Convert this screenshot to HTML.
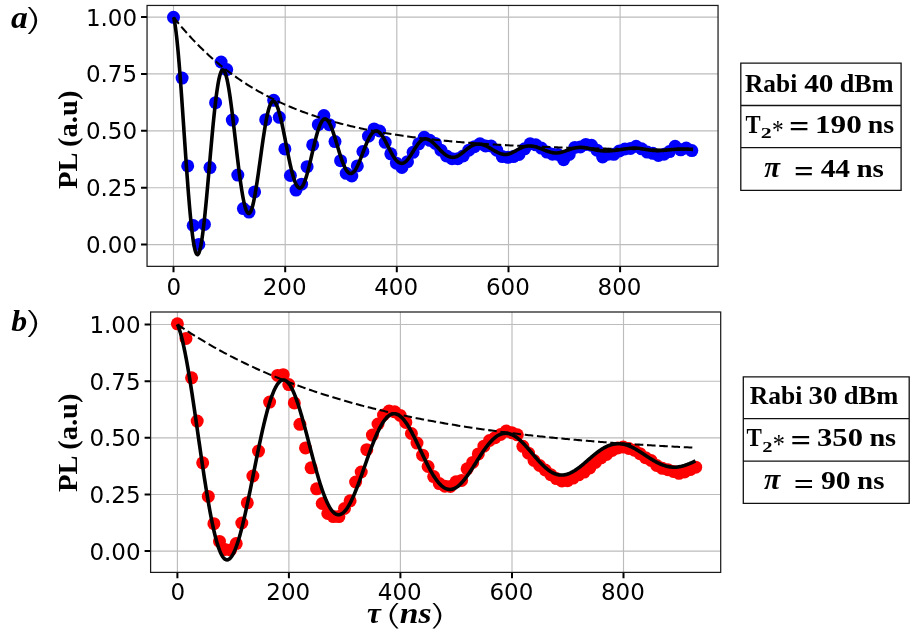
<!DOCTYPE html>
<html lang="en"><head><meta charset="utf-8"><title>Rabi oscillations</title>
<style>
html,body{margin:0;padding:0;background:#fff}
body{width:919px;height:637px;overflow:hidden}
svg{display:block}
.tk text{font-family:"DejaVu Sans","Liberation Sans",sans-serif;font-size:23px;fill:#000}
.sf{font-family:"Liberation Serif","DejaVu Serif",serif;fill:#000}
.b{font-weight:bold}
.bi{font-weight:bold;font-style:italic}
.rg{font-weight:normal;font-style:normal}
.dl{font-family:"DejaVu Sans Light","DejaVu Sans",sans-serif;font-weight:200;fill:#000}
</style></head><body>
<svg width="919" height="637" viewBox="0 0 919 637">
<rect width="919" height="637" fill="#fff"/>
<path d="M173.5,5.45V266.3M285.2,5.45V266.3M396.8,5.45V266.3M508.5,5.45V266.3M620.1,5.45V266.3M147.05,244.6H718.05M147.05,187.7H718.05M147.05,130.8H718.05M147.05,73.9H718.05M147.05,17.1H718.05" stroke="#bcbcbc" stroke-width="1.15" fill="none"/>
<g>
<g fill="#0000ff"><circle cx="173.5" cy="17.3" r="6.5"/><circle cx="182.1" cy="78.1" r="6.5"/><circle cx="187.7" cy="165.9" r="6.5"/><circle cx="193.2" cy="225.5" r="6.5"/><circle cx="198.8" cy="244.4" r="6.5"/><circle cx="204.4" cy="224.4" r="6.5"/><circle cx="210.0" cy="167.6" r="6.5"/><circle cx="215.6" cy="102.7" r="6.5"/><circle cx="221.1" cy="62.0" r="6.5"/><circle cx="226.7" cy="69.6" r="6.5"/><circle cx="232.3" cy="120.1" r="6.5"/><circle cx="237.8" cy="175.1" r="6.5"/><circle cx="243.4" cy="208.6" r="6.5"/><circle cx="249.0" cy="212.1" r="6.5"/><circle cx="254.6" cy="191.9" r="6.5"/><circle cx="265.7" cy="119.7" r="6.5"/><circle cx="273.7" cy="100.3" r="6.5"/><circle cx="279.3" cy="117.3" r="6.5"/><circle cx="284.9" cy="148.9" r="6.5"/><circle cx="290.4" cy="175.5" r="6.5"/><circle cx="296.0" cy="190.1" r="6.5"/><circle cx="301.6" cy="184.2" r="6.5"/><circle cx="307.1" cy="166.7" r="6.5"/><circle cx="312.7" cy="144.9" r="6.5"/><circle cx="318.3" cy="124.7" r="6.5"/><circle cx="323.9" cy="115.5" r="6.5"/><circle cx="329.4" cy="124.7" r="6.5"/><circle cx="335.0" cy="141.6" r="6.5"/><circle cx="340.6" cy="160.7" r="6.5"/><circle cx="346.2" cy="173.3" r="6.5"/><circle cx="351.8" cy="176.0" r="6.5"/><circle cx="357.3" cy="165.9" r="6.5"/><circle cx="362.9" cy="151.5" r="6.5"/><circle cx="368.5" cy="136.2" r="6.5"/><circle cx="374.1" cy="128.9" r="6.5"/><circle cx="379.6" cy="131.0" r="6.5"/><circle cx="385.2" cy="142.3" r="6.5"/><circle cx="390.8" cy="153.8" r="6.5"/><circle cx="396.4" cy="163.2" r="6.5"/><circle cx="401.9" cy="167.5" r="6.5"/><circle cx="407.5" cy="161.7" r="6.5"/><circle cx="413.1" cy="152.3" r="6.5"/><circle cx="418.7" cy="143.8" r="6.5"/><circle cx="424.2" cy="137.3" r="6.5"/><circle cx="429.8" cy="140.3" r="6.5"/><circle cx="435.4" cy="143.4" r="6.5"/><circle cx="440.9" cy="150.2" r="6.5"/><circle cx="446.5" cy="155.9" r="6.5"/><circle cx="452.1" cy="158.7" r="6.5"/><circle cx="457.7" cy="158.7" r="6.5"/><circle cx="463.2" cy="155.9" r="6.5"/><circle cx="468.8" cy="150.2" r="6.5"/><circle cx="474.4" cy="146.7" r="6.5"/><circle cx="480.0" cy="143.8" r="6.5"/><circle cx="485.6" cy="146.0" r="6.5"/><circle cx="491.1" cy="146.0" r="6.5"/><circle cx="496.7" cy="150.2" r="6.5"/><circle cx="502.3" cy="156.6" r="6.5"/><circle cx="507.9" cy="157.3" r="6.5"/><circle cx="513.4" cy="156.6" r="6.5"/><circle cx="519.0" cy="154.5" r="6.5"/><circle cx="524.6" cy="148.8" r="6.5"/><circle cx="530.1" cy="143.8" r="6.5"/><circle cx="535.7" cy="144.8" r="6.5"/><circle cx="541.3" cy="148.1" r="6.5"/><circle cx="546.9" cy="152.1" r="6.5"/><circle cx="552.5" cy="154.2" r="6.5"/><circle cx="558.0" cy="154.5" r="6.5"/><circle cx="563.6" cy="159.7" r="6.5"/><circle cx="569.2" cy="154.5" r="6.5"/><circle cx="574.8" cy="147.4" r="6.5"/><circle cx="580.3" cy="147.0" r="6.5"/><circle cx="585.9" cy="144.4" r="6.5"/><circle cx="591.5" cy="145.3" r="6.5"/><circle cx="597.0" cy="150.2" r="6.5"/><circle cx="602.6" cy="156.9" r="6.5"/><circle cx="608.2" cy="154.2" r="6.5"/><circle cx="613.8" cy="154.3" r="6.5"/><circle cx="619.4" cy="150.9" r="6.5"/><circle cx="624.9" cy="149.0" r="6.5"/><circle cx="630.5" cy="148.4" r="6.5"/><circle cx="636.1" cy="146.3" r="6.5"/><circle cx="641.6" cy="148.8" r="6.5"/><circle cx="647.2" cy="152.1" r="6.5"/><circle cx="652.8" cy="153.3" r="6.5"/><circle cx="658.4" cy="155.4" r="6.5"/><circle cx="664.0" cy="154.2" r="6.5"/><circle cx="669.5" cy="151.6" r="6.5"/><circle cx="675.1" cy="146.3" r="6.5"/><circle cx="680.7" cy="149.8" r="6.5"/><circle cx="686.2" cy="148.1" r="6.5"/><circle cx="691.8" cy="150.6" r="6.5"/></g>
<path d="M173.60,17.30 L174.10,19.42 L174.60,22.00 L175.10,25.03 L175.60,28.49 L176.10,32.37 L176.60,36.65 L177.10,41.31 L177.60,46.32 L178.10,51.67 L178.60,57.33 L179.10,63.27 L179.60,69.48 L180.10,75.93 L180.60,82.58 L181.10,89.42 L181.60,96.42 L182.10,103.54 L182.60,110.76 L183.10,118.06 L183.60,125.40 L184.10,132.76 L184.60,140.11 L185.10,147.42 L185.60,154.66 L186.10,161.82 L186.60,168.86 L187.10,175.75 L187.60,182.48 L188.10,189.02 L188.60,195.35 L189.10,201.45 L189.60,207.29 L190.10,212.86 L190.60,218.14 L191.10,223.11 L191.60,227.76 L192.10,232.07 L192.60,236.03 L193.10,239.63 L193.60,242.85 L194.10,245.70 L194.60,248.16 L195.10,250.24 L195.60,251.91 L196.10,253.19 L196.60,254.07 L197.10,254.55 L197.60,254.64 L198.10,254.33 L198.60,253.59 L199.10,252.46 L199.60,250.94 L200.10,249.05 L200.60,246.80 L201.10,244.21 L201.60,241.27 L202.10,238.02 L202.60,234.47 L203.10,230.63 L203.60,226.52 L204.10,222.16 L204.60,217.57 L205.10,212.76 L205.60,207.77 L206.10,202.61 L206.60,197.30 L207.10,191.87 L207.60,186.33 L208.10,180.72 L208.60,175.04 L209.10,169.33 L209.60,163.60 L210.10,157.89 L210.60,152.20 L211.10,146.56 L211.60,141.00 L212.10,135.53 L212.60,130.18 L213.10,124.95 L213.60,119.88 L214.10,114.98 L214.60,110.26 L215.10,105.74 L215.60,101.44 L216.10,97.37 L216.60,93.55 L217.10,89.98 L217.60,86.68 L218.10,83.66 L218.60,80.92 L219.10,78.47 L219.60,76.33 L220.10,74.48 L220.60,72.95 L221.10,71.73 L221.60,70.81 L222.10,70.21 L222.60,69.92 L223.10,69.94 L223.60,70.25 L224.10,70.77 L224.60,71.58 L225.10,72.67 L225.60,74.03 L226.10,75.66 L226.60,77.55 L227.10,79.68 L227.60,82.06 L228.10,84.66 L228.60,87.48 L229.10,90.51 L229.60,93.73 L230.10,97.12 L230.60,100.68 L231.10,104.39 L231.60,108.24 L232.10,112.20 L232.60,116.27 L233.10,120.43 L233.60,124.65 L234.10,128.94 L234.60,133.26 L235.10,137.61 L235.60,141.97 L236.10,146.31 L236.60,150.63 L237.10,154.92 L237.60,159.14 L238.10,163.29 L238.60,167.36 L239.10,171.33 L239.60,175.19 L240.10,178.92 L240.60,182.51 L241.10,185.94 L241.60,189.22 L242.10,192.32 L242.60,195.24 L243.10,197.96 L243.60,200.49 L244.10,202.80 L244.60,204.90 L245.10,206.78 L245.60,208.43 L246.10,209.86 L246.60,211.05 L247.10,212.00 L247.60,212.71 L248.10,213.19 L248.60,213.43 L249.10,213.43 L249.60,213.16 L250.10,212.58 L250.60,211.74 L251.10,210.66 L251.60,209.33 L252.10,207.77 L252.60,205.99 L253.10,203.99 L253.60,201.79 L254.10,199.40 L254.60,196.83 L255.10,194.09 L255.60,191.20 L256.10,188.16 L256.60,185.01 L257.10,181.74 L257.60,178.37 L258.10,174.93 L258.60,171.42 L259.10,167.85 L259.60,164.25 L260.10,160.64 L260.60,157.01 L261.10,153.40 L261.60,149.81 L262.10,146.27 L262.60,142.77 L263.10,139.35 L263.60,136.01 L264.10,132.76 L264.60,129.61 L265.10,126.59 L265.60,123.70 L266.10,120.94 L266.60,118.34 L267.10,115.90 L267.60,113.62 L268.10,111.52 L268.60,109.60 L269.10,107.87 L269.60,106.33 L270.10,104.99 L270.60,103.85 L271.10,102.91 L271.60,102.18 L272.10,101.65 L272.60,101.33 L273.10,101.21 L273.60,101.29 L274.10,101.54 L274.60,101.91 L275.10,102.46 L275.60,103.16 L276.10,104.01 L276.60,105.02 L277.10,106.18 L277.60,107.48 L278.10,108.91 L278.60,110.48 L279.10,112.16 L279.60,113.97 L280.10,115.88 L280.60,117.89 L281.10,120.00 L281.60,122.19 L282.10,124.46 L282.60,126.80 L283.10,129.20 L283.60,131.65 L284.10,134.14 L284.60,136.66 L285.10,139.21 L285.60,141.77 L286.10,144.33 L286.60,146.90 L287.10,149.45 L287.60,151.98 L288.10,154.48 L288.60,156.94 L289.10,159.35 L289.60,161.71 L290.10,164.01 L290.60,166.24 L291.10,168.39 L291.60,170.46 L292.10,172.44 L292.60,174.32 L293.10,176.10 L293.60,177.77 L294.10,179.32 L294.60,180.77 L295.10,182.09 L295.60,183.28 L296.10,184.35 L296.60,185.29 L297.10,186.09 L297.60,186.76 L298.10,187.30 L298.60,187.70 L299.10,187.96 L299.60,188.09 L300.10,188.08 L300.60,187.93 L301.10,187.64 L301.60,187.19 L302.10,186.61 L302.60,185.89 L303.10,185.03 L303.60,184.04 L304.10,182.93 L304.60,181.70 L305.10,180.35 L305.60,178.90 L306.10,177.35 L306.60,175.70 L307.10,173.96 L307.60,172.15 L308.10,170.26 L308.60,168.32 L309.10,166.31 L309.60,164.26 L310.10,162.17 L310.60,160.05 L311.10,157.91 L311.60,155.76 L312.10,153.60 L312.60,151.44 L313.10,149.30 L313.60,147.18 L314.10,145.08 L314.60,143.03 L315.10,141.01 L315.60,139.05 L316.10,137.15 L316.60,135.31 L317.10,133.54 L317.60,131.86 L318.10,130.25 L318.60,128.74 L319.10,127.32 L319.60,126.00 L320.10,124.78 L320.60,123.67 L321.10,122.67 L321.60,121.79 L322.10,121.02 L322.60,120.37 L323.10,119.84 L323.60,119.43 L324.10,119.14 L324.60,118.97 L325.10,118.92 L325.60,118.99 L326.10,119.19 L326.60,119.50 L327.10,119.92 L327.60,120.44 L328.10,121.07 L328.60,121.80 L329.10,122.63 L329.60,123.55 L330.10,124.56 L330.60,125.65 L331.10,126.82 L331.60,128.07 L332.10,129.38 L332.60,130.76 L333.10,132.19 L333.60,133.68 L334.10,135.21 L334.60,136.78 L335.10,138.38 L335.60,140.01 L336.10,141.66 L336.60,143.33 L337.10,145.00 L337.60,146.67 L338.10,148.34 L338.60,150.00 L339.10,151.64 L339.60,153.25 L340.10,154.84 L340.60,156.39 L341.10,157.90 L341.60,159.37 L342.10,160.78 L342.60,162.14 L343.10,163.44 L343.60,164.68 L344.10,165.85 L344.60,166.95 L345.10,167.97 L345.60,168.91 L346.10,169.77 L346.60,170.55 L347.10,171.24 L347.60,171.84 L348.10,172.36 L348.60,172.78 L349.10,173.12 L349.60,173.36 L350.10,173.51 L350.60,173.57 L351.10,173.54 L351.60,173.42 L352.10,173.21 L352.60,172.92 L353.10,172.53 L353.60,172.06 L354.10,171.52 L354.60,170.89 L355.10,170.19 L355.60,169.42 L356.10,168.58 L356.60,167.68 L357.10,166.71 L357.60,165.69 L358.10,164.62 L358.60,163.51 L359.10,162.35 L359.60,161.15 L360.10,159.93 L360.60,158.67 L361.10,157.39 L361.60,156.10 L362.10,154.79 L362.60,153.48 L363.10,152.16 L363.60,150.85 L364.10,149.55 L364.60,148.26 L365.10,146.98 L365.60,145.73 L366.10,144.51 L366.60,143.32 L367.10,142.16 L367.60,141.04 L368.10,139.97 L368.60,138.94 L369.10,137.96 L369.60,137.04 L370.10,136.18 L370.60,135.37 L371.10,134.62 L371.60,133.94 L372.10,133.33 L372.60,132.78 L373.10,132.31 L373.60,131.90 L374.10,131.56 L374.60,131.30 L375.10,131.11 L375.60,130.99 L376.10,130.94 L376.60,130.97 L377.10,131.07 L377.60,131.25 L378.10,131.50 L378.60,131.82 L379.10,132.20 L379.60,132.64 L380.10,133.13 L380.60,133.69 L381.10,134.30 L381.60,134.96 L382.10,135.66 L382.60,136.41 L383.10,137.20 L383.60,138.03 L384.10,138.90 L384.60,139.79 L385.10,140.71 L385.60,141.65 L386.10,142.61 L386.60,143.59 L387.10,144.57 L387.60,145.57 L388.10,146.57 L388.60,147.56 L389.10,148.56 L389.60,149.54 L390.10,150.52 L390.60,151.47 L391.10,152.41 L391.60,153.33 L392.10,154.23 L392.60,155.09 L393.10,155.93 L393.60,156.73 L394.10,157.49 L394.60,158.22 L395.10,158.90 L395.60,159.54 L396.10,160.14 L396.60,160.69 L397.10,161.19 L397.60,161.64 L398.10,162.04 L398.60,162.39 L399.10,162.68 L399.60,162.92 L400.10,163.11 L400.60,163.25 L401.10,163.33 L401.60,163.36 L402.10,163.34 L402.60,163.27 L403.10,163.15 L403.60,162.97 L404.10,162.73 L404.60,162.44 L405.10,162.09 L405.60,161.69 L406.10,161.24 L406.60,160.75 L407.10,160.21 L407.60,159.62 L408.10,159.00 L408.60,158.35 L409.10,157.66 L409.60,156.95 L410.10,156.21 L410.60,155.44 L411.10,154.66 L411.60,153.87 L412.10,153.06 L412.60,152.25 L413.10,151.44 L413.60,150.62 L414.10,149.81 L414.60,149.01 L415.10,148.21 L415.60,147.44 L416.10,146.67 L416.60,145.94 L417.10,145.22 L417.60,144.53 L418.10,143.87 L418.60,143.24 L419.10,142.65 L419.60,142.10 L420.10,141.58 L420.60,141.11 L421.10,140.67 L421.60,140.28 L422.10,139.94 L422.60,139.64 L423.10,139.40 L423.60,139.19 L424.10,139.04 L424.60,138.93 L425.10,138.88 L425.60,138.87 L426.10,138.91 L426.60,138.99 L427.10,139.11 L427.60,139.27 L428.10,139.45 L428.60,139.66 L429.10,139.91 L429.60,140.18 L430.10,140.48 L430.60,140.81 L431.10,141.16 L431.60,141.53 L432.10,141.93 L432.60,142.35 L433.10,142.78 L433.60,143.23 L434.10,143.70 L434.60,144.18 L435.10,144.68 L435.60,145.18 L436.10,145.69 L436.60,146.21 L437.10,146.73 L437.60,147.26 L438.10,147.79 L438.60,148.31 L439.10,148.84 L439.60,149.36 L440.10,149.88 L440.60,150.39 L441.10,150.89 L441.60,151.38 L442.10,151.86 L442.60,152.32 L443.10,152.77 L443.60,153.21 L444.10,153.63 L444.60,154.03 L445.10,154.41 L445.60,154.77 L446.10,155.11 L446.60,155.43 L447.10,155.73 L447.60,156.00 L448.10,156.25 L448.60,156.47 L449.10,156.67 L449.60,156.84 L450.10,156.99 L450.60,157.11 L451.10,157.21 L451.60,157.28 L452.10,157.32 L452.60,157.34 L453.10,157.33 L453.60,157.30 L454.10,157.24 L454.60,157.15 L455.10,157.03 L455.60,156.88 L456.10,156.71 L456.60,156.51 L457.10,156.29 L457.60,156.04 L458.10,155.78 L458.60,155.49 L459.10,155.18 L459.60,154.86 L460.10,154.52 L460.60,154.17 L461.10,153.80 L461.60,153.43 L462.10,153.04 L462.60,152.64 L463.10,152.24 L463.60,151.84 L464.10,151.43 L464.60,151.01 L465.10,150.60 L465.60,150.19 L466.10,149.79 L466.60,149.38 L467.10,148.99 L467.60,148.60 L468.10,148.22 L468.60,147.85 L469.10,147.49 L469.60,147.15 L470.10,146.82 L470.60,146.50 L471.10,146.20 L471.60,145.92 L472.10,145.65 L472.60,145.41 L473.10,145.18 L473.60,144.97 L474.10,144.79 L474.60,144.62 L475.10,144.48 L475.60,144.35 L476.10,144.25 L476.60,144.17 L477.10,144.12 L477.60,144.08 L478.10,144.07 L478.60,144.08 L479.10,144.10 L479.60,144.13 L480.10,144.17 L480.60,144.23 L481.10,144.31 L481.60,144.40 L482.10,144.52 L482.60,144.65 L483.10,144.79 L483.60,144.96 L484.10,145.13 L484.60,145.33 L485.10,145.53 L485.60,145.75 L486.10,145.98 L486.60,146.22 L487.10,146.48 L487.60,146.74 L488.10,147.01 L488.60,147.29 L489.10,147.57 L489.60,147.87 L490.10,148.16 L490.60,148.46 L491.10,148.76 L491.60,149.07 L492.10,149.37 L492.60,149.67 L493.10,149.97 L493.60,150.27 L494.10,150.57 L494.60,150.86 L495.10,151.15 L495.60,151.43 L496.10,151.70 L496.60,151.96 L497.10,152.21 L497.60,152.46 L498.10,152.69 L498.60,152.91 L499.10,153.12 L499.60,153.32 L500.10,153.50 L500.60,153.67 L501.10,153.83 L501.60,153.97 L502.10,154.09 L502.60,154.20 L503.10,154.29 L503.60,154.37 L504.10,154.43 L504.60,154.47 L505.10,154.49 L505.60,154.50 L506.10,154.49 L506.60,154.44 L507.10,154.37 L507.60,154.28 L508.10,154.17 L508.60,154.04 L509.10,153.90 L509.60,153.73 L510.10,153.56 L510.60,153.36 L511.10,153.16 L511.60,152.94 L512.10,152.70 L512.60,152.46 L513.10,152.21 L513.60,151.95 L514.10,151.68 L514.60,151.41 L515.10,151.13 L515.60,150.85 L516.10,150.57 L516.60,150.29 L517.10,150.01 L517.60,149.73 L518.10,149.45 L518.60,149.18 L519.10,148.91 L519.60,148.65 L520.10,148.40 L520.60,148.15 L521.10,147.92 L521.60,147.69 L522.10,147.48 L522.60,147.28 L523.10,147.09 L523.60,146.91 L524.10,146.75 L524.60,146.60 L525.10,146.47 L525.60,146.35 L526.10,146.25 L526.60,146.17 L527.10,146.10 L527.60,146.04 L528.10,146.01 L528.60,145.99 L529.10,145.98 L529.60,145.99 L530.10,146.01 L530.60,146.03 L531.10,146.06 L531.60,146.10 L532.10,146.15 L532.60,146.22 L533.10,146.30 L533.60,146.39 L534.10,146.49 L534.60,146.60 L535.10,146.72 L535.60,146.85 L536.10,146.99 L536.60,147.13 L537.10,147.29 L537.60,147.45 L538.10,147.62 L538.60,147.80 L539.10,147.98 L539.60,148.17 L540.10,148.36 L540.60,148.56 L541.10,148.75 L541.60,148.96 L542.10,149.16 L542.60,149.36 L543.10,149.57 L543.60,149.77 L544.10,149.97 L544.60,150.18 L545.10,150.37 L545.60,150.57 L546.10,150.76 L546.60,150.95 L547.10,151.13 L547.60,151.31 L548.10,151.48 L548.60,151.65 L549.10,151.80 L549.60,151.95 L550.10,152.09 L550.60,152.22 L551.10,152.35 L551.60,152.46 L552.10,152.56 L552.60,152.66 L553.10,152.74 L553.60,152.81 L554.10,152.87 L554.60,152.92 L555.10,152.96 L555.60,152.98 L556.10,153.00 L556.60,153.00 L557.10,152.97 L557.60,152.92 L558.10,152.86 L558.60,152.79 L559.10,152.71 L559.60,152.62 L560.10,152.52 L560.60,152.40 L561.10,152.28 L561.60,152.16 L562.10,152.02 L562.60,151.88 L563.10,151.73 L563.60,151.57 L564.10,151.41 L564.60,151.25 L565.10,151.08 L565.60,150.91 L566.10,150.74 L566.60,150.56 L567.10,150.39 L567.60,150.21 L568.10,150.04 L568.60,149.87 L569.10,149.69 L569.60,149.53 L570.10,149.36 L570.60,149.20 L571.10,149.04 L571.60,148.89 L572.10,148.74 L572.60,148.60 L573.10,148.46 L573.60,148.34 L574.10,148.21 L574.60,148.10 L575.10,147.99 L575.60,147.89 L576.10,147.80 L576.60,147.72 L577.10,147.65 L577.60,147.58 L578.10,147.53 L578.60,147.48 L579.10,147.44 L579.60,147.41 L580.10,147.39 L580.60,147.38 L581.10,147.38 L581.60,147.38 L582.10,147.40 L582.60,147.43 L583.10,147.46 L583.60,147.51 L584.10,147.56 L584.60,147.62 L585.10,147.69 L585.60,147.77 L586.10,147.85 L586.60,147.94 L587.10,148.03 L587.60,148.13 L588.10,148.23 L588.60,148.34 L589.10,148.44 L589.60,148.56 L590.10,148.67 L590.60,148.79 L591.10,148.90 L591.60,149.02 L592.10,149.14 L592.60,149.25 L593.10,149.37 L593.60,149.48 L594.10,149.59 L594.60,149.70 L595.10,149.81 L595.60,149.91 L596.10,150.01 L596.60,150.11 L597.10,150.20 L597.60,150.29 L598.10,150.37 L598.60,150.45 L599.10,150.52 L599.60,150.58 L600.10,150.65 L600.60,150.70 L601.10,150.75 L601.60,150.79 L602.10,150.83 L602.60,150.86 L603.10,150.88 L603.60,150.90 L604.10,150.91 L604.60,150.92 L605.10,150.92 L605.60,150.91 L606.10,150.90 L606.60,150.90 L607.10,150.90 L607.60,150.89 L608.10,150.88 L608.60,150.87 L609.10,150.85 L609.60,150.83 L610.10,150.80 L610.60,150.78 L611.10,150.74 L611.60,150.71 L612.10,150.67 L612.60,150.63 L613.10,150.58 L613.60,150.53 L614.10,150.48 L614.60,150.42 L615.10,150.37 L615.60,150.31 L616.10,150.24 L616.60,150.18 L617.10,150.11 L617.60,150.04 L618.10,149.97 L618.60,149.90 L619.10,149.83 L619.60,149.75 L620.10,149.68 L620.60,149.60 L621.10,149.53 L621.60,149.45 L622.10,149.38 L622.60,149.30 L623.10,149.23 L623.60,149.15 L624.10,149.08 L624.60,149.01 L625.10,148.94 L625.60,148.87 L626.10,148.80 L626.60,148.73 L627.10,148.67 L627.60,148.61 L628.10,148.55 L628.60,148.50 L629.10,148.44 L629.60,148.39 L630.10,148.35 L630.60,148.31 L631.10,148.27 L631.60,148.23 L632.10,148.20 L632.60,148.17 L633.10,148.15 L633.60,148.13 L634.10,148.12 L634.60,148.11 L635.10,148.10 L635.60,148.11 L636.10,148.14 L636.60,148.17 L637.10,148.20 L637.60,148.24 L638.10,148.28 L638.60,148.33 L639.10,148.39 L639.60,148.45 L640.10,148.51 L640.60,148.58 L641.10,148.65 L641.60,148.73 L642.10,148.80 L642.60,148.88 L643.10,148.96 L643.60,149.04 L644.10,149.13 L644.60,149.21 L645.10,149.30 L645.60,149.38 L646.10,149.46 L646.60,149.55 L647.10,149.63 L647.60,149.71 L648.10,149.79 L648.60,149.86 L649.10,149.94 L649.60,150.01 L650.10,150.08 L650.60,150.14 L651.10,150.20 L651.60,150.26 L652.10,150.31 L652.60,150.36 L653.10,150.41 L653.60,150.45 L654.10,150.48 L654.60,150.52 L655.10,150.54 L655.60,150.56 L656.10,150.58 L656.60,150.60 L657.10,150.60 L657.60,150.61 L658.10,150.61 L658.60,150.60 L659.10,150.59 L659.60,150.58 L660.10,150.56 L660.60,150.54 L661.10,150.52 L661.60,150.49 L662.10,150.46 L662.60,150.43 L663.10,150.39 L663.60,150.35 L664.10,150.32 L664.60,150.27 L665.10,150.23 L665.60,150.19 L666.10,150.14 L666.60,150.09 L667.10,150.05 L667.60,150.00 L668.10,149.95 L668.60,149.90 L669.10,149.85 L669.60,149.80 L670.10,149.75 L670.60,149.70 L671.10,149.66 L671.60,149.61 L672.10,149.56 L672.60,149.52 L673.10,149.47 L673.60,149.43 L674.10,149.39 L674.60,149.35 L675.10,149.31 L675.60,149.27 L676.10,149.24 L676.60,149.20 L677.10,149.17 L677.60,149.15 L678.10,149.12 L678.60,149.10 L679.10,149.08 L679.60,149.06 L680.10,149.04 L680.60,149.03 L681.10,149.01 L681.60,149.01 L682.10,149.00 L682.60,148.99 L683.10,148.99 L683.60,148.99 L684.10,148.99 L684.60,149.00 L685.10,149.01 L685.60,149.03 L686.10,149.05 L686.60,149.07 L687.10,149.09 L687.60,149.11 L688.10,149.13 L688.60,149.16 L689.10,149.18 L689.60,149.21 L690.10,149.24 L690.60,149.26 L691.10,149.29 L691.60,149.32 L692.10,149.34 L692.60,149.37 L693.10,149.40" stroke="#000" stroke-width="3.6" fill="none" stroke-linejoin="round" stroke-linecap="butt"/>
<path d="M173.50,17.05 L175.17,19.17 L176.85,21.25 L178.52,23.30 L180.20,25.32 L181.87,27.31 L183.55,29.26 L185.22,31.19 L186.90,33.08 L188.57,34.95 L190.25,36.78 L191.92,38.59 L193.60,40.36 L195.27,42.11 L196.95,43.83 L198.62,45.53 L200.30,47.19 L201.97,48.83 L203.65,50.45 L205.32,52.04 L207.00,53.60 L208.67,55.14 L210.35,56.65 L212.02,58.14 L213.70,59.61 L215.37,61.06 L217.05,62.48 L218.72,63.88 L220.40,65.25 L222.07,66.61 L223.75,67.94 L225.42,69.25 L227.10,70.54 L228.77,71.81 L230.45,73.06 L232.12,74.30 L233.80,75.51 L235.47,76.70 L237.15,77.87 L238.82,79.03 L240.50,80.16 L242.17,81.28 L243.85,82.38 L245.52,83.47 L247.20,84.53 L248.87,85.58 L250.55,86.62 L252.22,87.63 L253.90,88.63 L255.57,89.62 L257.25,90.59 L258.92,91.54 L260.59,92.48 L262.27,93.40 L263.94,94.31 L265.62,95.20 L267.29,96.08 L268.97,96.95 L270.64,97.80 L272.32,98.64 L273.99,99.47 L275.67,100.28 L277.34,101.08 L279.02,101.87 L280.69,102.64 L282.37,103.41 L284.04,104.16 L285.72,104.90 L287.39,105.62 L289.07,106.34 L290.74,107.04 L292.42,107.74 L294.09,108.42 L295.77,109.09 L297.44,109.75 L299.12,110.40 L300.79,111.04 L302.47,111.67 L304.14,112.29 L305.82,112.90 L307.49,113.50 L309.17,114.09 L310.84,114.67 L312.52,115.24 L314.19,115.81 L315.87,116.36 L317.54,116.91 L319.22,117.44 L320.89,117.97 L322.57,118.49 L324.24,119.00 L325.92,119.51 L327.59,120.00 L329.27,120.49 L330.94,120.97 L332.62,121.44 L334.29,121.91 L335.97,122.37 L337.64,122.82 L339.32,123.26 L340.99,123.70 L342.66,124.13 L344.34,124.55 L346.01,124.96 L347.69,125.37 L349.36,125.78 L351.04,126.17 L352.71,126.56 L354.39,126.95 L356.06,127.33 L357.74,127.70 L359.41,128.06 L361.09,128.42 L362.76,128.78 L364.44,129.13 L366.11,129.47 L367.79,129.81 L369.46,130.14 L371.14,130.47 L372.81,130.79 L374.49,131.11 L376.16,131.42 L377.84,131.73 L379.51,132.03 L381.19,132.33 L382.86,132.62 L384.54,132.91 L386.21,133.19 L387.89,133.47 L389.56,133.75 L391.24,134.02 L392.91,134.28 L394.59,134.54 L396.26,134.80 L397.94,135.05 L399.61,135.30 L401.29,135.55 L402.96,135.79 L404.64,136.03 L406.31,136.26 L407.99,136.49 L409.66,136.72 L411.34,136.94 L413.01,137.16 L414.69,137.38 L416.36,137.59 L418.04,137.80 L419.71,138.01 L421.39,138.21 L423.06,138.41 L424.74,138.61 L426.41,138.80 L428.08,138.99 L429.76,139.18 L431.43,139.36 L433.11,139.54 L434.78,139.72 L436.46,139.90 L438.13,140.07 L439.81,140.24 L441.48,140.41 L443.16,140.57 L444.83,140.74 L446.51,140.89 L448.18,141.05 L449.86,141.21 L451.53,141.36 L453.21,141.51 L454.88,141.66 L456.56,141.80 L458.23,141.94 L459.91,142.08 L461.58,142.22 L463.26,142.36 L464.93,142.49 L466.61,142.62 L468.28,142.75 L469.96,142.88 L471.63,143.01 L473.31,143.13 L474.98,143.25 L476.66,143.37 L478.33,143.49 L480.01,143.61 L481.68,143.72 L483.36,143.83 L485.03,143.94 L486.71,144.05 L488.38,144.16 L490.06,144.27 L491.73,144.37 L493.41,144.47 L495.08,144.57 L496.76,144.67 L498.43,144.77 L500.11,144.86 L501.78,144.96 L503.46,145.05 L505.13,145.14 L506.81,145.23 L508.48,145.32 L510.15,145.41 L511.83,145.49 L513.50,145.58 L515.18,145.66 L516.85,145.74 L518.53,145.82 L520.20,145.90 L521.88,145.98 L523.55,146.06 L525.23,146.13 L526.90,146.21 L528.58,146.28 L530.25,146.35 L531.93,146.42 L533.60,146.49 L535.28,146.56 L536.95,146.63 L538.63,146.69 L540.30,146.76 L541.98,146.82 L543.65,146.89 L545.33,146.95 L547.00,147.01 L548.68,147.07 L550.35,147.13 L552.03,147.19 L553.70,147.25 L555.38,147.30 L557.05,147.36 L558.73,147.41 L560.40,147.47 L562.08,147.52 L563.75,147.57 L565.43,147.62 L567.10,147.67 L568.78,147.72 L570.45,147.77 L572.13,147.82 L573.80,147.87 L575.48,147.92 L577.15,147.96 L578.83,148.01 L580.50,148.05 L582.18,148.09 L583.85,148.14 L585.53,148.18 L587.20,148.22 L588.88,148.26 L590.55,148.30 L592.23,148.34 L593.90,148.38 L595.57,148.42 L597.25,148.46 L598.92,148.50 L600.60,148.53 L602.27,148.57 L603.95,148.61 L605.62,148.64 L607.30,148.67 L608.97,148.71 L610.65,148.74 L612.32,148.78 L614.00,148.81 L615.67,148.84 L617.35,148.87 L619.02,148.90 L620.70,148.93 L622.37,148.96 L624.05,148.99 L625.72,149.02 L627.40,149.05 L629.07,149.08 L630.75,149.10 L632.42,149.13 L634.10,149.16 L635.77,149.18 L637.45,149.21 L639.12,149.24 L640.80,149.26 L642.47,149.29 L644.15,149.31 L645.82,149.33 L647.50,149.36 L649.17,149.38 L650.85,149.40 L652.52,149.43 L654.20,149.45 L655.87,149.47 L657.55,149.49 L659.22,149.51 L660.90,149.53 L662.57,149.55 L664.25,149.57 L665.92,149.59 L667.60,149.61 L669.27,149.63 L670.95,149.65 L672.62,149.67 L674.30,149.69 L675.97,149.70 L677.64,149.72 L679.32,149.74 L680.99,149.76 L682.67,149.77 L684.34,149.79 L686.02,149.81 L687.69,149.82 L689.37,149.84 L691.04,149.85" stroke="#000" stroke-width="2.05" fill="none" stroke-dasharray="8.566 3.704"/>
</g>
<path d="M173.5,266.3v6.0M285.2,266.3v6.0M396.8,266.3v6.0M508.5,266.3v6.0M620.1,266.3v6.0M147.05,244.6h-6.0M147.05,187.7h-6.0M147.05,130.8h-6.0M147.05,73.9h-6.0M147.05,17.1h-6.0" stroke="#000" stroke-width="2.0" fill="none"/>
<rect x="147.05" y="5.45" width="571.0" height="260.9" fill="none" stroke="#1a1a1a" stroke-width="1.23"/>
<g class="tk"><text x="173.9" y="294.8" text-anchor="middle">0</text><text x="284.6" y="294.8" text-anchor="middle">200</text><text x="396.2" y="294.8" text-anchor="middle">400</text><text x="507.9" y="294.8" text-anchor="middle">600</text><text x="619.5" y="294.8" text-anchor="middle">800</text><text x="137.1" y="253.0" text-anchor="end">0.00</text><text x="137.1" y="196.1" text-anchor="end">0.25</text><text x="137.1" y="139.2" text-anchor="end">0.50</text><text x="137.1" y="82.3" text-anchor="end">0.75</text><text x="137.1" y="25.5" text-anchor="end">1.00</text></g>
<path d="M177.4,312.0V572.35M288.9,312.0V572.35M400.4,312.0V572.35M512.0,312.0V572.35M623.5,312.0V572.35M150.6,551.1H720.75M150.6,494.5H720.75M150.6,437.8H720.75M150.6,381.2H720.75M150.6,324.5H720.75" stroke="#bcbcbc" stroke-width="1.15" fill="none"/>
<g>
<g fill="#ff0000"><circle cx="177.4" cy="323.8" r="6.5"/><circle cx="186.0" cy="338.5" r="6.5"/><circle cx="191.6" cy="377.8" r="6.5"/><circle cx="197.2" cy="421.1" r="6.5"/><circle cx="202.7" cy="462.8" r="6.5"/><circle cx="208.3" cy="496.4" r="6.5"/><circle cx="213.9" cy="523.7" r="6.5"/><circle cx="219.5" cy="541.4" r="6.5"/><circle cx="225.0" cy="549.5" r="6.5"/><circle cx="230.6" cy="550.0" r="6.5"/><circle cx="236.2" cy="543.6" r="6.5"/><circle cx="241.8" cy="523.0" r="6.5"/><circle cx="247.3" cy="502.8" r="6.5"/><circle cx="252.9" cy="476.0" r="6.5"/><circle cx="258.5" cy="451.1" r="6.5"/><circle cx="269.6" cy="402.1" r="6.5"/><circle cx="277.6" cy="375.4" r="6.5"/><circle cx="283.2" cy="374.7" r="6.5"/><circle cx="288.8" cy="384.6" r="6.5"/><circle cx="294.3" cy="402.9" r="6.5"/><circle cx="299.9" cy="424.3" r="6.5"/><circle cx="305.5" cy="447.9" r="6.5"/><circle cx="311.1" cy="467.8" r="6.5"/><circle cx="316.6" cy="488.8" r="6.5"/><circle cx="322.2" cy="503.5" r="6.5"/><circle cx="327.8" cy="513.5" r="6.5"/><circle cx="333.4" cy="516.6" r="6.5"/><circle cx="338.9" cy="516.6" r="6.5"/><circle cx="344.5" cy="508.5" r="6.5"/><circle cx="350.1" cy="500.8" r="6.5"/><circle cx="355.6" cy="482.0" r="6.5"/><circle cx="361.2" cy="472.0" r="6.5"/><circle cx="366.8" cy="449.7" r="6.5"/><circle cx="372.4" cy="435.1" r="6.5"/><circle cx="378.0" cy="424.0" r="6.5"/><circle cx="383.5" cy="415.0" r="6.5"/><circle cx="389.1" cy="411.0" r="6.5"/><circle cx="394.7" cy="411.8" r="6.5"/><circle cx="400.2" cy="415.4" r="6.5"/><circle cx="405.8" cy="422.4" r="6.5"/><circle cx="411.4" cy="433.5" r="6.5"/><circle cx="417.0" cy="443.1" r="6.5"/><circle cx="422.6" cy="455.2" r="6.5"/><circle cx="428.1" cy="466.5" r="6.5"/><circle cx="433.7" cy="476.6" r="6.5"/><circle cx="439.3" cy="483.6" r="6.5"/><circle cx="444.9" cy="486.2" r="6.5"/><circle cx="450.4" cy="486.5" r="6.5"/><circle cx="456.0" cy="481.8" r="6.5"/><circle cx="461.6" cy="480.4" r="6.5"/><circle cx="467.1" cy="468.8" r="6.5"/><circle cx="472.7" cy="462.4" r="6.5"/><circle cx="478.3" cy="453.9" r="6.5"/><circle cx="483.9" cy="446.2" r="6.5"/><circle cx="489.5" cy="440.5" r="6.5"/><circle cx="495.0" cy="437.7" r="6.5"/><circle cx="500.6" cy="434.5" r="6.5"/><circle cx="506.2" cy="431.0" r="6.5"/><circle cx="511.8" cy="432.7" r="6.5"/><circle cx="517.3" cy="434.8" r="6.5"/><circle cx="522.9" cy="446.3" r="6.5"/><circle cx="528.5" cy="453.2" r="6.5"/><circle cx="534.0" cy="460.5" r="6.5"/><circle cx="539.6" cy="465.5" r="6.5"/><circle cx="545.2" cy="470.0" r="6.5"/><circle cx="550.8" cy="474.7" r="6.5"/><circle cx="556.4" cy="478.6" r="6.5"/><circle cx="561.9" cy="480.9" r="6.5"/><circle cx="567.5" cy="480.7" r="6.5"/><circle cx="573.1" cy="478.1" r="6.5"/><circle cx="578.6" cy="474.8" r="6.5"/><circle cx="584.2" cy="472.1" r="6.5"/><circle cx="589.8" cy="467.9" r="6.5"/><circle cx="595.4" cy="462.5" r="6.5"/><circle cx="601.0" cy="457.8" r="6.5"/><circle cx="606.5" cy="454.4" r="6.5"/><circle cx="612.1" cy="450.5" r="6.5"/><circle cx="617.7" cy="448.0" r="6.5"/><circle cx="623.2" cy="447.1" r="6.5"/><circle cx="628.8" cy="448.5" r="6.5"/><circle cx="634.4" cy="450.2" r="6.5"/><circle cx="640.0" cy="453.7" r="6.5"/><circle cx="645.5" cy="457.7" r="6.5"/><circle cx="651.1" cy="460.5" r="6.5"/><circle cx="656.7" cy="465.5" r="6.5"/><circle cx="662.3" cy="468.3" r="6.5"/><circle cx="667.9" cy="469.7" r="6.5"/><circle cx="673.4" cy="471.4" r="6.5"/><circle cx="679.0" cy="473.3" r="6.5"/><circle cx="684.6" cy="471.9" r="6.5"/><circle cx="690.1" cy="469.6" r="6.5"/><circle cx="695.7" cy="467.2" r="6.5"/></g>
<path d="M177.40,324.20 L177.90,325.39 L178.40,326.68 L178.90,328.07 L179.40,329.56 L179.90,331.15 L180.40,332.84 L180.90,334.61 L181.40,336.48 L181.90,338.44 L182.40,340.49 L182.90,342.62 L183.40,344.84 L183.90,347.14 L184.40,349.51 L184.90,351.97 L185.40,354.49 L185.90,357.09 L186.40,359.76 L186.90,362.49 L187.40,365.28 L187.90,368.14 L188.40,371.06 L188.90,374.03 L189.40,377.05 L189.90,380.12 L190.40,383.24 L190.90,386.40 L191.40,389.61 L191.90,392.85 L192.40,396.13 L192.90,399.44 L193.40,402.79 L193.90,406.15 L194.40,409.55 L194.90,412.96 L195.40,416.39 L195.90,419.84 L196.40,423.29 L196.90,426.76 L197.40,430.23 L197.90,433.71 L198.40,437.19 L198.90,440.66 L199.40,444.13 L199.90,447.59 L200.40,451.04 L200.90,454.48 L201.40,457.90 L201.90,461.30 L202.40,464.67 L202.90,468.03 L203.40,471.35 L203.90,474.65 L204.40,477.91 L204.90,481.14 L205.40,484.33 L205.90,487.48 L206.40,490.58 L206.90,493.65 L207.40,496.66 L207.90,499.63 L208.40,502.54 L208.90,505.40 L209.40,508.21 L209.90,510.96 L210.40,513.64 L210.90,516.27 L211.40,518.83 L211.90,521.33 L212.40,523.76 L212.90,526.12 L213.40,528.41 L213.90,530.63 L214.40,532.78 L214.90,534.85 L215.40,536.85 L215.90,538.76 L216.40,540.61 L216.90,542.37 L217.40,544.05 L217.90,545.65 L218.40,547.16 L218.90,548.60 L219.40,549.95 L219.90,551.21 L220.40,552.39 L220.90,553.49 L221.40,554.50 L221.90,555.42 L222.40,556.26 L222.90,557.00 L223.40,557.67 L223.90,558.24 L224.40,558.73 L224.90,559.13 L225.40,559.44 L225.90,559.67 L226.40,559.81 L226.90,559.86 L227.40,559.83 L227.90,559.72 L228.40,559.52 L228.90,559.24 L229.40,558.90 L229.90,558.47 L230.40,557.97 L230.90,557.40 L231.40,556.74 L231.90,556.02 L232.40,555.22 L232.90,554.35 L233.40,553.40 L233.90,552.39 L234.40,551.30 L234.90,550.15 L235.40,548.93 L235.90,547.65 L236.40,546.30 L236.90,544.89 L237.40,543.42 L237.90,541.89 L238.40,540.30 L238.90,538.65 L239.40,536.95 L239.90,535.19 L240.40,533.38 L240.90,531.52 L241.40,529.62 L241.90,527.66 L242.40,525.66 L242.90,523.62 L243.40,521.54 L243.90,519.41 L244.40,517.25 L244.90,515.05 L245.40,512.82 L245.90,510.56 L246.40,508.26 L246.90,505.94 L247.40,503.59 L247.90,501.22 L248.40,498.82 L248.90,496.41 L249.40,493.97 L249.90,491.52 L250.40,489.06 L250.90,486.58 L251.40,484.09 L251.90,481.60 L252.40,479.09 L252.90,476.59 L253.40,474.08 L253.90,471.57 L254.40,469.06 L254.90,466.55 L255.40,464.05 L255.90,461.56 L256.40,459.08 L256.90,456.61 L257.40,454.15 L257.90,451.70 L258.40,449.27 L258.90,446.86 L259.40,444.47 L259.90,442.11 L260.40,439.76 L260.90,437.45 L261.40,435.15 L261.90,432.89 L262.40,430.66 L262.90,428.46 L263.40,426.29 L263.90,424.16 L264.40,422.07 L264.90,420.01 L265.40,417.99 L265.90,416.02 L266.40,414.08 L266.90,412.19 L267.40,410.34 L267.90,408.54 L268.40,406.79 L268.90,405.08 L269.40,403.42 L269.90,401.82 L270.40,400.26 L270.90,398.76 L271.40,397.31 L271.90,395.92 L272.40,394.57 L272.90,393.29 L273.40,392.06 L273.90,390.89 L274.40,389.77 L274.90,388.72 L275.40,387.72 L275.90,386.78 L276.40,385.90 L276.90,385.08 L277.40,384.32 L277.90,383.62 L278.40,382.99 L278.90,382.41 L279.40,381.90 L279.90,381.44 L280.40,381.05 L280.90,380.72 L281.40,380.45 L281.90,380.24 L282.40,380.09 L282.90,380.00 L283.40,379.98 L283.90,380.01 L284.40,380.10 L284.90,380.25 L285.40,380.47 L285.90,380.75 L286.40,381.09 L286.90,381.49 L287.40,381.94 L287.90,382.46 L288.40,383.04 L288.90,383.67 L289.40,384.36 L289.90,385.11 L290.40,385.91 L290.90,386.76 L291.40,387.67 L291.90,388.63 L292.40,389.64 L292.90,390.70 L293.40,391.81 L293.90,392.97 L294.40,394.17 L294.90,395.42 L295.40,396.71 L295.90,398.04 L296.40,399.42 L296.90,400.83 L297.40,402.29 L297.90,403.78 L298.40,405.30 L298.90,406.86 L299.40,408.46 L299.90,410.08 L300.40,411.74 L300.90,413.42 L301.40,415.13 L301.90,416.87 L302.40,418.63 L302.90,420.41 L303.40,422.21 L303.90,424.03 L304.40,425.87 L304.90,427.72 L305.40,429.59 L305.90,431.47 L306.40,433.37 L306.90,435.27 L307.40,437.18 L307.90,439.09 L308.40,441.01 L308.90,442.94 L309.40,444.86 L309.90,446.79 L310.40,448.71 L310.90,450.63 L311.40,452.55 L311.90,454.45 L312.40,456.36 L312.90,458.25 L313.40,460.13 L313.90,462.00 L314.40,463.85 L314.90,465.69 L315.40,467.51 L315.90,469.32 L316.40,471.10 L316.90,472.87 L317.40,474.61 L317.90,476.33 L318.40,478.02 L318.90,479.69 L319.40,481.33 L319.90,482.94 L320.40,484.52 L320.90,486.07 L321.40,487.59 L321.90,489.08 L322.40,490.53 L322.90,491.95 L323.40,493.33 L323.90,494.68 L324.40,495.99 L324.90,497.25 L325.40,498.48 L325.90,499.67 L326.40,500.82 L326.90,501.93 L327.40,502.99 L327.90,504.01 L328.40,504.99 L328.90,505.92 L329.40,506.80 L329.90,507.65 L330.40,508.44 L330.90,509.19 L331.40,509.90 L331.90,510.55 L332.40,511.16 L332.90,511.72 L333.40,512.24 L333.90,512.70 L334.40,513.12 L334.90,513.49 L335.40,513.82 L335.90,514.09 L336.40,514.32 L336.90,514.49 L337.40,514.62 L337.90,514.71 L338.40,514.74 L338.90,514.73 L339.40,514.67 L339.90,514.56 L340.40,514.41 L340.90,514.21 L341.40,513.97 L341.90,513.68 L342.40,513.35 L342.90,512.98 L343.40,512.56 L343.90,512.10 L344.40,511.60 L344.90,511.06 L345.40,510.48 L345.90,509.85 L346.40,509.19 L346.90,508.49 L347.40,507.75 L347.90,506.98 L348.40,506.16 L348.90,505.32 L349.40,504.44 L349.90,503.52 L350.40,502.57 L350.90,501.60 L351.40,500.59 L351.90,499.55 L352.40,498.48 L352.90,497.38 L353.40,496.26 L353.90,495.11 L354.40,493.94 L354.90,492.74 L355.40,491.52 L355.90,490.28 L356.40,489.02 L356.90,487.74 L357.40,486.44 L357.90,485.13 L358.40,483.80 L358.90,482.45 L359.40,481.09 L359.90,479.72 L360.40,478.34 L360.90,476.95 L361.40,475.54 L361.90,474.14 L362.40,472.72 L362.90,471.30 L363.40,469.87 L363.90,468.45 L364.40,467.02 L364.90,465.59 L365.40,464.16 L365.90,462.73 L366.40,461.30 L366.90,459.88 L367.40,458.47 L367.90,457.06 L368.40,455.65 L368.90,454.26 L369.40,452.87 L369.90,451.50 L370.40,450.14 L370.90,448.79 L371.40,447.45 L371.90,446.13 L372.40,444.82 L372.90,443.53 L373.40,442.26 L373.90,441.00 L374.40,439.77 L374.90,438.55 L375.40,437.36 L375.90,436.19 L376.40,435.04 L376.90,433.91 L377.40,432.81 L377.90,431.73 L378.40,430.68 L378.90,429.66 L379.40,428.66 L379.90,427.69 L380.40,426.76 L380.90,425.84 L381.40,424.96 L381.90,424.11 L382.40,423.29 L382.90,422.50 L383.40,421.75 L383.90,421.02 L384.40,420.33 L384.90,419.67 L385.40,419.04 L385.90,418.45 L386.40,417.89 L386.90,417.37 L387.40,416.88 L387.90,416.43 L388.40,416.01 L388.90,415.62 L389.40,415.27 L389.90,414.96 L390.40,414.68 L390.90,414.44 L391.40,414.23 L391.90,414.06 L392.40,413.92 L392.90,413.82 L393.40,413.75 L393.90,413.72 L394.40,413.72 L394.90,413.76 L395.40,413.84 L395.90,413.94 L396.40,414.08 L396.90,414.26 L397.40,414.46 L397.90,414.70 L398.40,414.97 L398.90,415.28 L399.40,415.61 L399.90,415.98 L400.40,416.38 L400.90,416.80 L401.40,417.26 L401.90,417.75 L402.40,418.26 L402.90,418.80 L403.40,419.37 L403.90,419.97 L404.40,420.59 L404.90,421.24 L405.40,421.92 L405.90,422.62 L406.40,423.34 L406.90,424.09 L407.40,424.85 L407.90,425.64 L408.40,426.45 L408.90,427.28 L409.40,428.13 L409.90,429.00 L410.40,429.89 L410.90,430.79 L411.40,431.71 L411.90,432.65 L412.40,433.59 L412.90,434.56 L413.40,435.53 L413.90,436.52 L414.40,437.52 L414.90,438.53 L415.40,439.55 L415.90,440.57 L416.40,441.61 L416.90,442.65 L417.40,443.70 L417.90,444.75 L418.40,445.81 L418.90,446.87 L419.40,447.93 L419.90,449.00 L420.40,450.07 L420.90,451.13 L421.40,452.20 L421.90,453.26 L422.40,454.32 L422.90,455.38 L423.40,456.43 L423.90,457.48 L424.40,458.52 L424.90,459.56 L425.40,460.59 L425.90,461.61 L426.40,462.62 L426.90,463.62 L427.40,464.62 L427.90,465.60 L428.40,466.57 L428.90,467.52 L429.40,468.46 L429.90,469.39 L430.40,470.31 L430.90,471.21 L431.40,472.09 L431.90,472.96 L432.40,473.81 L432.90,474.64 L433.40,475.45 L433.90,476.25 L434.40,477.02 L434.90,477.78 L435.40,478.51 L435.90,479.23 L436.40,479.92 L436.90,480.59 L437.40,481.24 L437.90,481.86 L438.40,482.47 L438.90,483.05 L439.40,483.60 L439.90,484.14 L440.40,484.64 L440.90,485.13 L441.40,485.59 L441.90,486.02 L442.40,486.43 L442.90,486.81 L443.40,487.17 L443.90,487.50 L444.40,487.80 L444.90,488.08 L445.40,488.34 L445.90,488.56 L446.40,488.76 L446.90,488.94 L447.40,489.09 L447.90,489.21 L448.40,489.30 L448.90,489.37 L449.40,489.42 L449.90,489.44 L450.40,489.43 L450.90,489.39 L451.40,489.33 L451.90,489.25 L452.40,489.13 L452.90,488.98 L453.40,488.82 L453.90,488.62 L454.40,488.41 L454.90,488.17 L455.40,487.90 L455.90,487.62 L456.40,487.31 L456.90,486.97 L457.40,486.62 L457.90,486.24 L458.40,485.84 L458.90,485.43 L459.40,484.99 L459.90,484.53 L460.40,484.05 L460.90,483.55 L461.40,483.03 L461.90,482.50 L462.40,481.95 L462.90,481.38 L463.40,480.80 L463.90,480.20 L464.40,479.58 L464.90,478.95 L465.40,478.31 L465.90,477.65 L466.40,476.98 L466.90,476.29 L467.40,475.60 L467.90,474.89 L468.40,474.18 L468.90,473.45 L469.40,472.72 L469.90,471.98 L470.40,471.22 L470.90,470.47 L471.40,469.70 L471.90,468.93 L472.40,468.16 L472.90,467.38 L473.40,466.59 L473.90,465.80 L474.40,465.01 L474.90,464.22 L475.40,463.43 L475.90,462.63 L476.40,461.84 L476.90,461.05 L477.40,460.25 L477.90,459.46 L478.40,458.68 L478.90,457.89 L479.40,457.11 L479.90,456.33 L480.40,455.56 L480.90,454.79 L481.40,454.03 L481.90,453.28 L482.40,452.53 L482.90,451.79 L483.40,451.06 L483.90,450.34 L484.40,449.63 L484.90,448.93 L485.40,448.23 L485.90,447.55 L486.40,446.88 L486.90,446.23 L487.40,445.58 L487.90,444.95 L488.40,444.33 L488.90,443.72 L489.40,443.13 L489.90,442.55 L490.40,441.99 L490.90,441.44 L491.40,440.91 L491.90,440.40 L492.40,439.90 L492.90,439.41 L493.40,438.95 L493.90,438.50 L494.40,438.06 L494.90,437.65 L495.40,437.25 L495.90,436.87 L496.40,436.51 L496.90,436.17 L497.40,435.85 L497.90,435.54 L498.40,435.26 L498.90,434.99 L499.40,434.74 L499.90,434.52 L500.40,434.31 L500.90,434.12 L501.40,433.95 L501.90,433.80 L502.40,433.66 L502.90,433.55 L503.40,433.46 L503.90,433.39 L504.40,433.33 L504.90,433.30 L505.40,433.28 L505.90,433.29 L506.40,433.31 L506.90,433.35 L507.40,433.41 L507.90,433.48 L508.40,433.57 L508.90,433.67 L509.40,433.80 L509.90,433.94 L510.40,434.10 L510.90,434.28 L511.40,434.47 L511.90,434.68 L512.40,434.91 L512.90,435.15 L513.40,435.42 L513.90,435.69 L514.40,435.99 L514.90,436.29 L515.40,436.62 L515.90,436.95 L516.40,437.30 L516.90,437.67 L517.40,438.05 L517.90,438.44 L518.40,438.85 L518.90,439.27 L519.40,439.70 L519.90,440.14 L520.40,440.59 L520.90,441.05 L521.40,441.53 L521.90,442.01 L522.40,442.51 L522.90,443.01 L523.40,443.52 L523.90,444.04 L524.40,444.57 L524.90,445.11 L525.40,445.65 L525.90,446.20 L526.40,446.75 L526.90,447.31 L527.40,447.88 L527.90,448.45 L528.40,449.02 L528.90,449.60 L529.40,450.18 L529.90,450.76 L530.40,451.34 L530.90,451.93 L531.40,452.52 L531.90,453.11 L532.40,453.70 L532.90,454.29 L533.40,454.87 L533.90,455.46 L534.40,456.05 L534.90,456.63 L535.40,457.21 L535.90,457.79 L536.40,458.36 L536.90,458.93 L537.40,459.50 L537.90,460.06 L538.40,460.61 L538.90,461.16 L539.40,461.71 L539.90,462.25 L540.40,462.78 L540.90,463.30 L541.40,463.82 L541.90,464.33 L542.40,464.83 L542.90,465.32 L543.40,465.80 L543.90,466.28 L544.40,466.74 L544.90,467.19 L545.40,467.64 L545.90,468.07 L546.40,468.49 L546.90,468.90 L547.40,469.30 L547.90,469.69 L548.40,470.07 L548.90,470.43 L549.40,470.78 L549.90,471.12 L550.40,471.44 L550.90,471.76 L551.40,472.05 L551.90,472.34 L552.40,472.61 L552.90,472.87 L553.40,473.11 L553.90,473.34 L554.40,473.56 L554.90,473.76 L555.40,473.95 L555.90,474.12 L556.40,474.28 L556.90,474.43 L557.40,474.56 L557.90,474.67 L558.40,474.77 L558.90,474.86 L559.40,474.93 L559.90,474.98 L560.40,475.03 L560.90,475.05 L561.40,475.07 L561.90,475.06 L562.40,475.05 L562.90,475.02 L563.40,474.97 L563.90,474.91 L564.40,474.83 L564.90,474.74 L565.40,474.64 L565.90,474.52 L566.40,474.39 L566.90,474.25 L567.40,474.10 L567.90,473.93 L568.40,473.75 L568.90,473.56 L569.40,473.36 L569.90,473.15 L570.40,472.92 L570.90,472.69 L571.40,472.44 L571.90,472.18 L572.40,471.91 L572.90,471.64 L573.40,471.35 L573.90,471.05 L574.40,470.75 L574.90,470.43 L575.40,470.11 L575.90,469.78 L576.40,469.44 L576.90,469.09 L577.40,468.74 L577.90,468.38 L578.40,468.01 L578.90,467.63 L579.40,467.25 L579.90,466.87 L580.40,466.47 L580.90,466.08 L581.40,465.68 L581.90,465.27 L582.40,464.86 L582.90,464.44 L583.40,464.03 L583.90,463.60 L584.40,463.18 L584.90,462.75 L585.40,462.33 L585.90,461.90 L586.40,461.46 L586.90,461.03 L587.40,460.60 L587.90,460.16 L588.40,459.73 L588.90,459.30 L589.40,458.86 L589.90,458.43 L590.40,458.00 L590.90,457.57 L591.40,457.14 L591.90,456.72 L592.40,456.30 L592.90,455.88 L593.40,455.46 L593.90,455.05 L594.40,454.64 L594.90,454.23 L595.40,453.83 L595.90,453.44 L596.40,453.04 L596.90,452.66 L597.40,452.28 L597.90,451.90 L598.40,451.53 L598.90,451.17 L599.40,450.81 L599.90,450.46 L600.40,450.12 L600.90,449.78 L601.40,449.45 L601.90,449.13 L602.40,448.82 L602.90,448.51 L603.40,448.22 L603.90,447.93 L604.40,447.65 L604.90,447.38 L605.40,447.11 L605.90,446.86 L606.40,446.62 L606.90,446.38 L607.40,446.16 L607.90,445.94 L608.40,445.73 L608.90,445.54 L609.40,445.35 L609.90,445.17 L610.40,445.01 L610.90,444.85 L611.40,444.70 L611.90,444.57 L612.40,444.44 L612.90,444.32 L613.40,444.22 L613.90,444.12 L614.40,444.04 L614.90,443.97 L615.40,443.90 L615.90,443.85 L616.40,443.80 L616.90,443.77 L617.40,443.75 L617.90,443.74 L618.40,443.74 L618.90,443.74 L619.40,443.76 L619.90,443.79 L620.40,443.83 L620.90,443.87 L621.40,443.92 L621.90,443.99 L622.40,444.06 L622.90,444.14 L623.40,444.24 L623.90,444.34 L624.40,444.45 L624.90,444.58 L625.40,444.71 L625.90,444.85 L626.40,445.00 L626.90,445.16 L627.40,445.32 L627.90,445.50 L628.40,445.68 L628.90,445.88 L629.40,446.08 L629.90,446.28 L630.40,446.50 L630.90,446.72 L631.40,446.95 L631.90,447.19 L632.40,447.43 L632.90,447.68 L633.40,447.94 L633.90,448.20 L634.40,448.47 L634.90,448.74 L635.40,449.02 L635.90,449.30 L636.40,449.59 L636.90,449.88 L637.40,450.18 L637.90,450.48 L638.40,450.79 L638.90,451.10 L639.40,451.41 L639.90,451.72 L640.40,452.04 L640.90,452.36 L641.40,452.68 L641.90,453.01 L642.40,453.33 L642.90,453.66 L643.40,453.99 L643.90,454.32 L644.40,454.65 L644.90,454.98 L645.40,455.31 L645.90,455.64 L646.40,455.97 L646.90,456.30 L647.40,456.63 L647.90,456.95 L648.40,457.28 L648.90,457.60 L649.40,457.93 L649.90,458.24 L650.40,458.56 L650.90,458.88 L651.40,459.19 L651.90,459.50 L652.40,459.80 L652.90,460.10 L653.40,460.40 L653.90,460.69 L654.40,460.98 L654.90,461.27 L655.40,461.55 L655.90,461.82 L656.40,462.09 L656.90,462.36 L657.40,462.62 L657.90,462.87 L658.40,463.12 L658.90,463.36 L659.40,463.59 L659.90,463.82 L660.40,464.05 L660.90,464.26 L661.40,464.47 L661.90,464.67 L662.40,464.87 L662.90,465.06 L663.40,465.24 L663.90,465.41 L664.40,465.58 L664.90,465.74 L665.40,465.89 L665.90,466.03 L666.40,466.17 L666.90,466.30 L667.40,466.42 L667.90,466.53 L668.40,466.63 L668.90,466.73 L669.40,466.81 L669.90,466.89 L670.40,466.96 L670.90,467.03 L671.40,467.08 L671.90,467.13 L672.40,467.16 L672.90,467.19 L673.40,467.22 L673.90,467.23 L674.40,467.23 L674.90,467.23 L675.40,467.22 L675.90,467.20 L676.40,467.16 L676.90,467.10 L677.40,467.04 L677.90,466.98 L678.40,466.90 L678.90,466.82 L679.40,466.73 L679.90,466.63 L680.40,466.52 L680.90,466.41 L681.40,466.30 L681.90,466.17 L682.40,466.04 L682.90,465.90 L683.40,465.76 L683.90,465.61 L684.40,465.46 L684.90,465.29 L685.40,465.13 L685.90,464.96 L686.40,464.78 L686.90,464.60 L687.40,464.41 L687.90,464.22 L688.40,464.03 L688.90,463.83 L689.40,463.63 L689.90,463.42 L690.40,463.21 L690.90,463.00 L691.40,462.78 L691.90,462.56 L692.40,462.34 L692.90,462.12 L693.40,461.89 L693.90,461.66 L694.40,461.43 L694.90,461.20 L695.40,460.96" stroke="#000" stroke-width="3.6" fill="none" stroke-linejoin="round" stroke-linecap="butt"/>
<path d="M177.40,324.50 L179.07,325.63 L180.75,326.75 L182.42,327.87 L184.09,328.97 L185.76,330.06 L187.44,331.15 L189.11,332.22 L190.78,333.29 L192.46,334.34 L194.13,335.39 L195.80,336.43 L197.47,337.46 L199.15,338.48 L200.82,339.49 L202.49,340.49 L204.16,341.49 L205.84,342.47 L207.51,343.45 L209.18,344.42 L210.86,345.38 L212.53,346.34 L214.20,347.28 L215.87,348.22 L217.55,349.15 L219.22,350.07 L220.89,350.98 L222.57,351.89 L224.24,352.78 L225.91,353.67 L227.58,354.56 L229.26,355.43 L230.93,356.30 L232.60,357.16 L234.28,358.01 L235.95,358.86 L237.62,359.70 L239.29,360.53 L240.97,361.35 L242.64,362.17 L244.31,362.98 L245.98,363.78 L247.66,364.58 L249.33,365.37 L251.00,366.15 L252.68,366.92 L254.35,367.69 L256.02,368.46 L257.69,369.21 L259.37,369.96 L261.04,370.71 L262.71,371.44 L264.39,372.17 L266.06,372.90 L267.73,373.62 L269.40,374.33 L271.08,375.03 L272.75,375.73 L274.42,376.43 L276.10,377.12 L277.77,377.80 L279.44,378.48 L281.11,379.15 L282.79,379.81 L284.46,380.47 L286.13,381.12 L287.80,381.77 L289.48,382.41 L291.15,383.05 L292.82,383.68 L294.50,384.31 L296.17,384.93 L297.84,385.55 L299.51,386.16 L301.19,386.76 L302.86,387.36 L304.53,387.96 L306.21,388.55 L307.88,389.13 L309.55,389.71 L311.22,390.29 L312.90,390.86 L314.57,391.42 L316.24,391.98 L317.92,392.54 L319.59,393.09 L321.26,393.63 L322.93,394.17 L324.61,394.71 L326.28,395.24 L327.95,395.77 L329.62,396.29 L331.30,396.81 L332.97,397.33 L334.64,397.84 L336.32,398.34 L337.99,398.84 L339.66,399.34 L341.33,399.83 L343.01,400.32 L344.68,400.81 L346.35,401.29 L348.03,401.76 L349.70,402.23 L351.37,402.70 L353.04,403.17 L354.72,403.63 L356.39,404.08 L358.06,404.53 L359.74,404.98 L361.41,405.43 L363.08,405.87 L364.75,406.30 L366.43,406.74 L368.10,407.17 L369.77,407.59 L371.44,408.02 L373.12,408.43 L374.79,408.85 L376.46,409.26 L378.14,409.67 L379.81,410.07 L381.48,410.47 L383.15,410.87 L384.83,411.27 L386.50,411.66 L388.17,412.04 L389.85,412.43 L391.52,412.81 L393.19,413.19 L394.86,413.56 L396.54,413.93 L398.21,414.30 L399.88,414.67 L401.56,415.03 L403.23,415.39 L404.90,415.74 L406.57,416.09 L408.25,416.44 L409.92,416.79 L411.59,417.13 L413.26,417.48 L414.94,417.81 L416.61,418.15 L418.28,418.48 L419.96,418.81 L421.63,419.14 L423.30,419.46 L424.97,419.78 L426.65,420.10 L428.32,420.41 L429.99,420.73 L431.67,421.04 L433.34,421.34 L435.01,421.65 L436.68,421.95 L438.36,422.25 L440.03,422.55 L441.70,422.84 L443.38,423.13 L445.05,423.42 L446.72,423.71 L448.39,424.00 L450.07,424.28 L451.74,424.56 L453.41,424.84 L455.08,425.11 L456.76,425.38 L458.43,425.65 L460.10,425.92 L461.78,426.19 L463.45,426.45 L465.12,426.71 L466.79,426.97 L468.47,427.23 L470.14,427.48 L471.81,427.74 L473.49,427.99 L475.16,428.23 L476.83,428.48 L478.50,428.72 L480.18,428.97 L481.85,429.21 L483.52,429.44 L485.20,429.68 L486.87,429.91 L488.54,430.14 L490.21,430.37 L491.89,430.60 L493.56,430.83 L495.23,431.05 L496.90,431.27 L498.58,431.49 L500.25,431.71 L501.92,431.93 L503.60,432.14 L505.27,432.36 L506.94,432.57 L508.61,432.77 L510.29,432.98 L511.96,433.19 L513.63,433.39 L515.31,433.59 L516.98,433.79 L518.65,433.99 L520.32,434.19 L522.00,434.38 L523.67,434.58 L525.34,434.77 L527.02,434.96 L528.69,435.15 L530.36,435.34 L532.03,435.52 L533.71,435.71 L535.38,435.89 L537.05,436.07 L538.72,436.25 L540.40,436.42 L542.07,436.60 L543.74,436.78 L545.42,436.95 L547.09,437.12 L548.76,437.29 L550.43,437.46 L552.11,437.63 L553.78,437.79 L555.45,437.96 L557.13,438.12 L558.80,438.28 L560.47,438.44 L562.14,438.60 L563.82,438.76 L565.49,438.91 L567.16,439.07 L568.84,439.22 L570.51,439.38 L572.18,439.53 L573.85,439.68 L575.53,439.82 L577.20,439.97 L578.87,440.12 L580.54,440.26 L582.22,440.41 L583.89,440.55 L585.56,440.69 L587.24,440.83 L588.91,440.97 L590.58,441.10 L592.25,441.24 L593.93,441.38 L595.60,441.51 L597.27,441.64 L598.95,441.77 L600.62,441.90 L602.29,442.03 L603.96,442.16 L605.64,442.29 L607.31,442.41 L608.98,442.54 L610.66,442.66 L612.33,442.79 L614.00,442.91 L615.67,443.03 L617.35,443.15 L619.02,443.27 L620.69,443.39 L622.36,443.50 L624.04,443.62 L625.71,443.73 L627.38,443.85 L629.06,443.96 L630.73,444.07 L632.40,444.18 L634.07,444.29 L635.75,444.40 L637.42,444.51 L639.09,444.62 L640.77,444.72 L642.44,444.83 L644.11,444.93 L645.78,445.04 L647.46,445.14 L649.13,445.24 L650.80,445.34 L652.48,445.44 L654.15,445.54 L655.82,445.64 L657.49,445.74 L659.17,445.83 L660.84,445.93 L662.51,446.02 L664.18,446.12 L665.86,446.21 L667.53,446.30 L669.20,446.40 L670.88,446.49 L672.55,446.58 L674.22,446.67 L675.89,446.75 L677.57,446.84 L679.24,446.93 L680.91,447.02 L682.59,447.10 L684.26,447.19 L685.93,447.27 L687.60,447.35 L689.28,447.44 L690.95,447.52 L692.62,447.60 L694.30,447.68" stroke="#000" stroke-width="2.05" fill="none" stroke-dasharray="8.566 3.704"/>
</g>
<path d="M177.4,572.35v6.0M288.9,572.35v6.0M400.4,572.35v6.0M512.0,572.35v6.0M623.5,572.35v6.0M150.6,551.1h-6.0M150.6,494.5h-6.0M150.6,437.8h-6.0M150.6,381.2h-6.0M150.6,324.5h-6.0" stroke="#000" stroke-width="2.0" fill="none"/>
<rect x="150.6" y="312.0" width="570.1" height="260.4" fill="none" stroke="#1a1a1a" stroke-width="1.23"/>
<g class="tk"><text x="177.8" y="600.1" text-anchor="middle">0</text><text x="288.3" y="600.1" text-anchor="middle">200</text><text x="399.8" y="600.1" text-anchor="middle">400</text><text x="511.4" y="600.1" text-anchor="middle">600</text><text x="622.9" y="600.1" text-anchor="middle">800</text><text x="140.6" y="559.5" text-anchor="end">0.00</text><text x="140.6" y="502.9" text-anchor="end">0.25</text><text x="140.6" y="446.2" text-anchor="end">0.50</text><text x="140.6" y="389.6" text-anchor="end">0.75</text><text x="140.6" y="332.9" text-anchor="end">1.00</text></g>
<g>
<text class="sf bi" font-size="31" transform="translate(10.89,27.60) scale(1.0856,1.0000)">a</text>
<text class="dl" font-size="26" transform="translate(22.04,30.09) scale(2.0346,1.1284)">)</text>
<text class="sf bi" font-size="31" transform="translate(11.21,331.24) scale(1.0253,0.9461)">b</text>
<text class="dl" font-size="26" transform="translate(22.04,332.87) scale(2.0346,1.1327)">)</text>
<text class="sf b" font-size="27.5" text-anchor="middle" transform="translate(77.3,139.8) rotate(-90) scale(1.04,1)">PL (a.u)</text>
<text class="sf b" font-size="27.5" text-anchor="middle" transform="translate(77.3,442.7) rotate(-90) scale(1.04,1)">PL (a.u)</text>
<text class="sf bi" font-size="30" transform="translate(366.96,622.60) scale(1.0389,1.0000)">τ</text>
<text class="dl" font-size="26" transform="translate(384.07,624.97) scale(1.9556,1.1025)">(</text>
<text class="sf bi" font-size="30" transform="translate(399.80,622.60) scale(1.1211,1.0000)">ns</text>
<text class="dl" font-size="26" transform="translate(426.95,624.97) scale(1.9264,1.1025)">)</text>
<path d="M740.8,63.1H901.0999999999999V190.3H740.8ZM740.8,105.5H901.0999999999999M740.8,147.7H901.0999999999999" fill="none" stroke="#111" stroke-width="1.3"/>

<text class="sf b" font-size="25" transform="translate(745.01,91.80) scale(1.0154,1.0000)">Rabi</text>
<text class="sf b" font-size="25" transform="translate(804.15,91.80) scale(1.1727,1.0000)">40</text>
<text class="sf b" font-size="25" transform="translate(839.65,91.80) scale(1.0460,1.0000)">dBm</text>
<text class="sf b" font-size="25" transform="translate(745.46,132.50) scale(0.9074,1.0000)">T</text>
<text class="sf b" font-size="15.5" transform="translate(760.82,137.70) scale(1.4154,1.0000)">2</text>
<text class="sf rg" font-size="27" transform="translate(771.91,138.90) scale(0.8659,0.9929)">*</text>
<text class="sf b" font-size="30" transform="translate(788.91,137.21) scale(1.1929,1.0222)">=</text>
<text class="sf b" font-size="25" transform="translate(815.01,132.50) scale(1.2464,1.0000)">190</text>
<text class="sf b" font-size="25" transform="translate(867.71,132.50) scale(1.1171,1.0000)">ns</text>
<text class="sf bi" font-size="29" transform="translate(764.25,177.00) scale(0.9981,1.0000)">π</text>
<text class="sf b" font-size="30" transform="translate(793.96,181.71) scale(1.1571,1.0222)">=</text>
<text class="sf b" font-size="25" transform="translate(820.65,177.00) scale(1.1774,1.0000)">44</text>
<text class="sf b" font-size="25" transform="translate(856.38,177.00) scale(1.1618,1.0000)">ns</text>
<path d="M743.3,376.8H909.1999999999999V503.3H743.3ZM743.3,418.6H909.1999999999999M743.3,461.1H909.1999999999999" fill="none" stroke="#111" stroke-width="1.3"/>

<text class="sf b" font-size="25" transform="translate(749.71,404.10) scale(1.0233,1.0000)">Rabi</text>
<text class="sf b" font-size="25" transform="translate(808.54,404.10) scale(1.1609,1.0000)">30</text>
<text class="sf b" font-size="25" transform="translate(843.74,404.10) scale(1.0600,1.0000)">dBm</text>
<text class="sf b" font-size="25" transform="translate(746.45,446.40) scale(0.9200,1.0000)">T</text>
<text class="sf b" font-size="15.5" transform="translate(762.18,451.60) scale(1.3231,1.0000)">2</text>
<text class="sf rg" font-size="27" transform="translate(772.85,452.80) scale(0.9032,0.9929)">*</text>
<text class="sf b" font-size="30" transform="translate(790.39,451.11) scale(1.2071,1.0222)">=</text>
<text class="sf b" font-size="25" transform="translate(817.08,446.40) scale(1.2225,1.0000)">350</text>
<text class="sf b" font-size="25" transform="translate(869.40,446.40) scale(1.1305,1.0000)">ns</text>
<text class="sf bi" font-size="29" transform="translate(764.04,488.60) scale(1.0291,1.0000)">π</text>
<text class="sf b" font-size="30" transform="translate(793.72,494.04) scale(1.1857,1.0099)">=</text>
<text class="sf b" font-size="25" transform="translate(821.07,488.60) scale(1.1848,1.0000)">90</text>
<text class="sf b" font-size="25" transform="translate(857.08,488.60) scale(1.1573,1.0000)">ns</text>
</g>
</svg>
</body></html>
